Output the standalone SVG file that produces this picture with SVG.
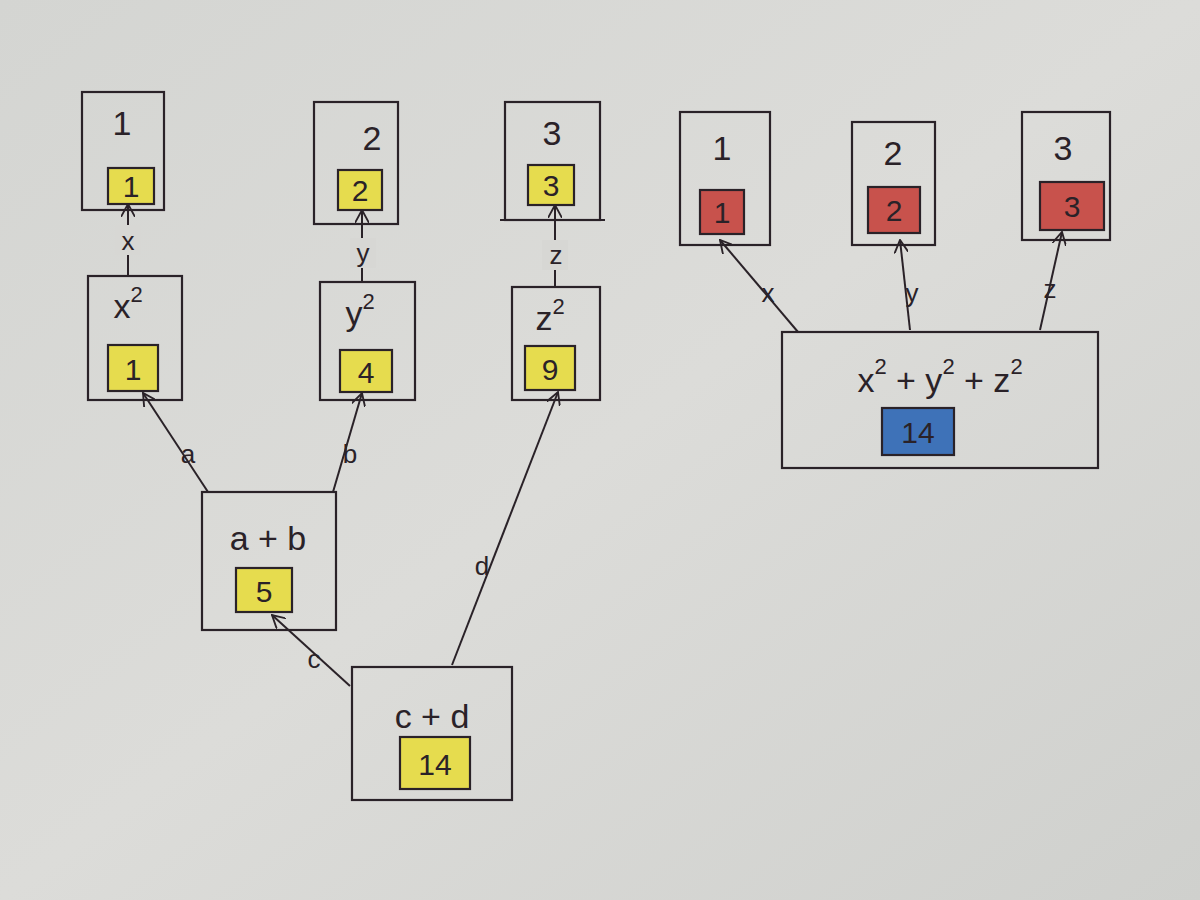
<svg xmlns="http://www.w3.org/2000/svg" width="1200" height="900" viewBox="0 0 1200 900">
<defs>
<linearGradient id="bg" x1="0" y1="0" x2="1" y2="1"><stop offset="0" stop-color="#d4d5d2"/><stop offset="0.5" stop-color="#dcdcd9"/><stop offset="1" stop-color="#cfd0cd"/></linearGradient>
<marker id="ah" viewBox="0 0 12 12" refX="11" refY="6" markerWidth="14" markerHeight="14" markerUnits="userSpaceOnUse" orient="auto"><path d="M0,0 L11,6 L0,12" fill="none" stroke="#2a2228" stroke-width="1.6"/></marker>
</defs>
<style>
.box{fill:none;stroke:#2a2228;stroke-width:2.2}
.y{fill:#e6dc4e;stroke:#2a2228;stroke-width:2.2}
.r{fill:#c8524c;stroke:#2a2228;stroke-width:2.2}
.b{fill:#3e72b8;stroke:#2a2228;stroke-width:2.2}
text{font-family:"Liberation Sans",sans-serif;fill:#2a2228;text-anchor:middle}
.t{font-size:34px}
.v{font-size:30px}
.l{font-size:26px}
.c{stroke:#2a2228;stroke-width:2;fill:none;marker-end:url(#ah)}
.base{stroke:#2a2228;stroke-width:2}
</style>
<rect width="1200" height="900" fill="url(#bg)"/>
<g id="n1"><rect class="box" x="82" y="92" width="82" height="118"/><text class="t" x="122" y="135">1</text><rect class="y" x="108" y="168" width="46" height="36"/><text class="v" x="131" y="197">1</text></g>
<g id="n2"><rect class="box" x="314" y="102" width="84" height="122"/><text class="t" x="372" y="150">2</text><rect class="y" x="338" y="170" width="44" height="40"/><text class="v" x="360" y="201">2</text></g>
<g id="n3"><rect class="box" x="505" y="102" width="95" height="118"/><text class="t" x="552" y="145">3</text><rect class="y" x="528" y="165" width="46" height="40"/><text class="v" x="551" y="196">3</text></g>
<g id="nx2"><rect class="box" x="88" y="276" width="94" height="124"/><text class="t" x="128" y="318">x<tspan font-size="22" dy="-16">2</tspan></text><rect class="y" x="108" y="345" width="50" height="46"/><text class="v" x="133" y="380">1</text></g>
<g id="ny2"><rect class="box" x="320" y="282" width="95" height="118"/><text class="t" x="360" y="325">y<tspan font-size="22" dy="-16">2</tspan></text><rect class="y" x="340" y="350" width="52" height="42"/><text class="v" x="366" y="383">4</text></g>
<g id="nz2"><rect class="box" x="512" y="287" width="88" height="113"/><text class="t" x="550" y="330">z<tspan font-size="22" dy="-16">2</tspan></text><rect class="y" x="525" y="346" width="50" height="44"/><text class="v" x="550" y="380">9</text></g>
<g id="nab"><rect class="box" x="202" y="492" width="134" height="138"/><text class="t" x="268" y="550">a + b</text><rect class="y" x="236" y="568" width="56" height="44"/><text class="v" x="264" y="602">5</text></g>
<g id="ncd"><rect class="box" x="352" y="667" width="160" height="133"/><text class="t" x="432" y="728">c + d</text><rect class="y" x="400" y="737" width="70" height="52"/><text class="v" x="435" y="775">14</text></g>
<g id="r1"><rect class="box" x="680" y="112" width="90" height="133"/><text class="t" x="722" y="160">1</text><rect class="r" x="700" y="190" width="44" height="44"/><text class="v" x="722" y="223">1</text></g>
<g id="r2"><rect class="box" x="852" y="122" width="83" height="123"/><text class="t" x="893" y="165">2</text><rect class="r" x="868" y="187" width="52" height="46"/><text class="v" x="894" y="221">2</text></g>
<g id="r3"><rect class="box" x="1022" y="112" width="88" height="128"/><text class="t" x="1063" y="160">3</text><rect class="r" x="1040" y="182" width="64" height="48"/><text class="v" x="1072" y="217">3</text></g>
<g id="rsum"><rect class="box" x="782" y="332" width="316" height="136"/><text class="t" x="940" y="392">x<tspan font-size="22" dy="-18">2</tspan><tspan dy="18"> + y</tspan><tspan font-size="22" dy="-18">2</tspan><tspan dy="18"> + z</tspan><tspan font-size="22" dy="-18">2</tspan></text><rect class="b" x="882" y="408" width="72" height="47"/><text class="v" x="918" y="443">14</text></g>
<g id="connectors">
<line class="base" x1="95" y1="210" x2="165" y2="210"/>
<line class="base" x1="98" y1="400" x2="178" y2="400"/>
<line class="base" x1="330" y1="400" x2="400" y2="400"/>
<line class="base" x1="520" y1="400" x2="598" y2="400"/>
<line class="base" x1="212" y1="630" x2="336" y2="630"/>
<line class="base" x1="500" y1="220" x2="605" y2="220"/>
<line class="c" x1="128" y1="276" x2="128" y2="204"/>
<line class="c" x1="362" y1="282" x2="362" y2="210"/>
<line class="c" x1="555" y1="287" x2="555" y2="205"/>
<line class="c" x1="208" y1="492" x2="143" y2="393"/>
<line class="c" x1="333" y1="492" x2="362" y2="393"/>
<line class="c" x1="452" y1="665" x2="558" y2="392"/>
<line class="c" x1="350" y1="686" x2="272" y2="615"/>
<line class="c" x1="798" y1="332" x2="720" y2="240"/>
<line class="c" x1="910" y1="330" x2="900" y2="240"/>
<line class="c" x1="1040" y1="330" x2="1062" y2="232"/>
<rect x="115" y="225" width="26" height="30" fill="#d7d7d4"/><text class="l" x="128" y="250">x</text>
<rect x="350" y="238" width="26" height="30" fill="#d7d7d4"/><text class="l" x="363" y="262">y</text>
<rect x="542" y="240" width="26" height="30" fill="#d7d7d4"/><text class="l" x="556" y="264">z</text>
<text class="l" x="188" y="463">a</text>
<text class="l" x="350" y="463">b</text>
<text class="l" x="482" y="575">d</text>
<text class="l" x="314" y="668">c</text>
<text class="l" x="768" y="302">x</text>
<text class="l" x="912" y="302">y</text>
<text class="l" x="1050" y="298">z</text>
</g>
</svg>
